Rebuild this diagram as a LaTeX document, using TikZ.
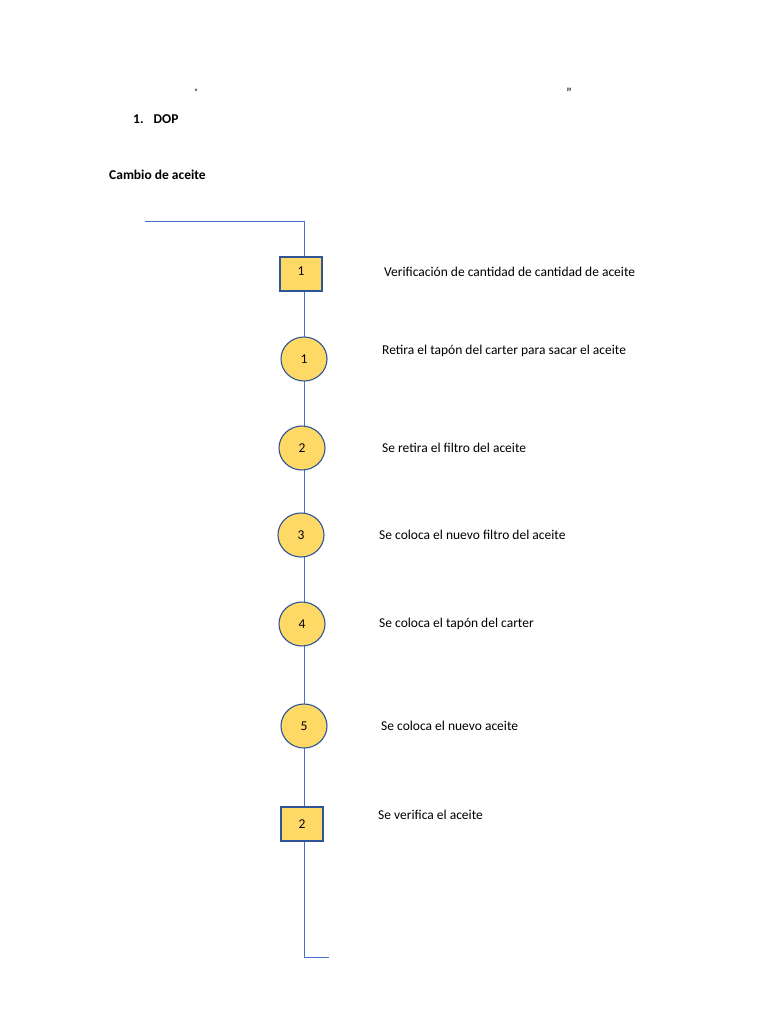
\documentclass[tikz,border=0pt]{standalone}
\usepackage{fontspec}
\usetikzlibrary{shapes.geometric}
\setmainfont{Carlito}
\definecolor{fillc}{HTML}{FFD966}
\definecolor{bord}{HTML}{2F5597}
\definecolor{linec}{HTML}{4472C4}
\begin{document}
\begin{tikzpicture}[x=1pt,y=-1pt,
  txt/.style={anchor=west,inner sep=0pt,font=\fontsize{13.5}{16}\selectfont},
  insp/.style={draw=bord,fill=fillc,line width=1.1pt,minimum width=42pt,minimum height=34pt,inner sep=0pt,font=\fontsize{13.5}{16}\selectfont},
  oper/.style={draw=bord,fill=fillc,line width=1.1pt,ellipse,minimum width=46pt,minimum height=44pt,inner sep=0pt,font=\fontsize{13.5}{16}\selectfont},
  conn/.style={draw=linec,line width=1pt}]
\useasboundingbox (0,0) rectangle (768,1024);
\node[txt,font=\fontsize{9}{10}\selectfont] (q1) at (194,92) {“};
\node[txt,font=\fontsize{13.5}{16}\selectfont] (q2) at (566,93) {”};
\node[txt,font=\bfseries\fontsize{13.5}{16}\selectfont] (t1) at (133,119) {1.\hspace{10pt}DOP};
\node[txt,font=\bfseries\fontsize{13.5}{16}\selectfont] (t2) at (109,175) {Cambio de aceite};
\coordinate (s) at (145,222);
\coordinate (c) at (304,222);
\coordinate (e) at (304,957);
\coordinate (f) at (329,957);
\draw[conn] (s) -- (c) -- (e) -- (f);
\node[insp] (b1) at (301,274) {\raisebox{5pt}{1}};
\node[oper] (o1) at (304,359) {1};
\node[oper] (o2) at (302,448) {2};
\node[oper] (o3) at (301,535) {3};
\node[oper] (o4) at (302,624) {4};
\node[oper] (o5) at (304,726) {5};
\node[insp] (b2) at (302,824) {2};
\node[txt] (l1) at (384,272) {Verificación de cantidad de cantidad de aceite};
\node[txt] (l2) at (382,351) {Retira el tapón del carter para sacar el aceite};
\node[txt] (l3) at (382,448) {Se retira el filtro del aceite};
\node[txt] (l4) at (379,535) {Se coloca el nuevo filtro del aceite};
\node[txt] (l5) at (379,624) {Se coloca el tapón del carter};
\node[txt] (l6) at (381,726) {Se coloca el nuevo aceite};
\node[txt] (l7) at (378,815) {Se verifica el aceite};
\end{tikzpicture}
\end{document}
